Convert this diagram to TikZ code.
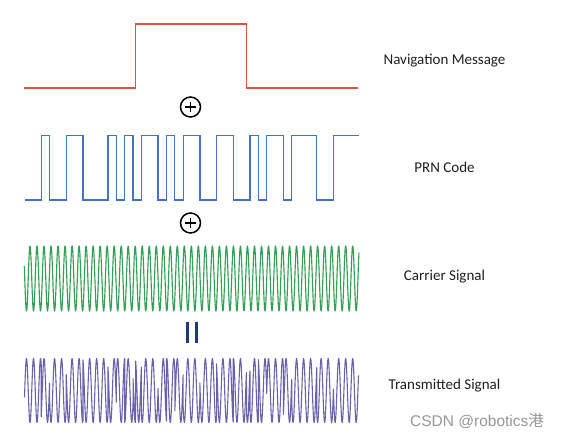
\documentclass[tikz,border=0pt]{standalone}
\usepackage{fontspec}
\setmainfont{Carlito}
\newfontfamily\wmfont{Liberation Sans}
\newfontfamily\cjkfont{Noto Sans CJK SC}
\usetikzlibrary{positioning}
\definecolor{navcol}{RGB}{229,80,62}
\definecolor{prncol}{RGB}{68,114,196}
\definecolor{carcol}{RGB}{52,160,86}
\definecolor{txcol}{RGB}{104,98,170}
\definecolor{eqcol}{RGB}{31,58,112}
\definecolor{wmcol}{RGB}{150,150,150}

\begin{document}
\begin{tikzpicture}[
  x=1pt, y=-1pt,
  every node/.style={font=\fontsize{15}{18}\selectfont, text=black!88},
  declare function={
    nav(\t)=(\t>135.5)*(\t<246.5);
    wave(\t)=cos(360*mod((\t-30)/7.015,1));
  },
  %% signal traces
  navline/.style={navcol, line width=1.3pt},
  prnline/.style={prncol, line width=1.3pt},
  carline/.style={carcol, line width=1.15pt, line join=round},
  txline/.style={txcol, line width=1.1pt, line join=round},
  %% labels on the right, set on their base line
  lbl/.style={anchor=base, inner sep=0pt},
  %% modulo-2 sum symbol
  xorsym/.style={
    draw, circle, line width=1.5pt,
    minimum size=20pt, inner sep=0pt,
    path picture={
      \draw[line width=1.5pt]
        ([xshift=-5.4pt]path picture bounding box.center) --
        ([xshift=5.4pt]path picture bounding box.center)
        ([yshift=-5.4pt]path picture bounding box.center) --
        ([yshift=5.4pt]path picture bounding box.center);
    }
  },
  %% the two bars of the equals sign
  eqbar/.style={eqcol, line width=2.7pt},
]
\useasboundingbox (0,0) rectangle (563,440);

%%── Navigation message ───────────────────────────────────────────────────────
\draw[navline] (24,88) -- (135.5,88) -- (135.5,24)
  -- (246.5,24) -- (246.5,88) -- (358,88);
\node[lbl] (navlbl) at (444.5,64.3) {Navigation Message};

\node[xorsym] (xor1) at (190.5,107) {};

%%── PRN code (40 chips) ──────────────────────────────────────────────────────
\draw[prnline] (24.5,200)
  \foreach \b [count=\i from 0] in
    {0,0,1,0,0,1,1,0,0,0,1,0,1,0,1,1,0,1,0,1,
     1,0,0,1,1,0,0,1,0,1,1,0,1,1,1,0,0,1,1,1}
  { -- ({24.5+8.35*\i},{200-64.3*\b}) -- ({32.85+8.35*\i},{200-64.3*\b}) };
\node[lbl] (prnlbl) at (444.5,172.7) {PRN Code};

\node[xorsym] (xor2) at (190.5,223) {};

%%── Carrier ──────────────────────────────────────────────────────────────────
\draw[carline] plot[domain=24.3:359, samples=1400]
  (\x,{278.5-32.5*wave(\x)});
\node[lbl] (carlbl) at (444.5,280.7) {Carrier Signal};

%%── Equals sign ──────────────────────────────────────────────────────────────
\coordinate (eq) at (192,332.5);
\draw[eqbar] (eq) ++(-4.2,-10.8) -- ++(0,21.6);
\draw[eqbar] (eq) ++(4.2,-10.8) -- ++(0,21.6);

%%── Transmitted signal: carrier flipped by code xor message ──────────────────
\draw[txline] (24.5,{390.5+32*wave(24.5)})
  \foreach \b [count=\i from 0] in
    {0,0,1,0,0,1,1,0,0,0,1,0,1,0,1,1,0,1,0,1,
     1,0,0,1,1,0,0,1,0,1,1,0,1,1,1,0,0,1,1,1}
  { -- plot[domain=24.5+8.35*\i:32.85+8.35*\i, samples=36]
      (\x,{390.5-32*(2*\b-1)*(1-2*nav(\x))*wave(\x)}) };
\node[lbl] (txlbl) at (444.5,389) {Transmitted Signal};

%% watermark
\node[font=\wmfont\fontsize{15.5}{18}\selectfont, text=wmcol,
      anchor=base west, inner sep=0pt] (wm) at (410,426)
  {CSDN @robotics{\cjkfont 港}};

\end{tikzpicture}
\end{document}
